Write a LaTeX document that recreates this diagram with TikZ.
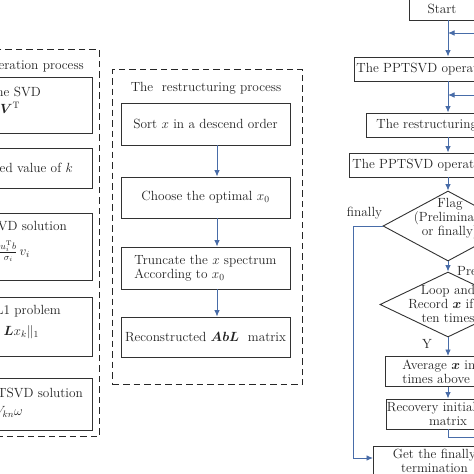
\RequirePackage{fix-cm}
\documentclass[tikz,border=0pt]{standalone}
\usepackage{amsmath,bm}
\usetikzlibrary{arrows.meta,shapes.geometric}
\definecolor{flowblue}{RGB}{72,108,168}
\definecolor{boxgray}{RGB}{50,50,50}
\definecolor{inkc}{RGB}{35,35,35}
\begin{document}
\begin{tikzpicture}[x=1pt,y=-1pt,
  font=\fontsize{13.3}{14}\selectfont, text=inkc,
  box/.style={draw=boxgray, line width=0.9pt, rectangle, inner sep=0pt},
  dbox/.style={draw=black!85, dash pattern=on 6.5pt off 4pt, line width=1.3pt, rectangle, inner sep=0pt},
  dia/.style={draw=boxgray, line width=0.9pt, diamond, inner sep=0pt},
  arr/.style={draw=flowblue, line width=0.95pt, -{Latex[length=6.5pt,width=5.5pt]}},
  ln/.style={draw=flowblue, line width=0.95pt},
  txt/.style={inner sep=0pt, align=center}]
\useasboundingbox (0,0) rectangle (474,474);
\fill[white] (0,0) rectangle (474,474);
\clip (0,0) rectangle (474,474);

% ---------- left panel: iteration process ----------
\node[dbox, anchor=north east, minimum width=250, minimum height=387] (lpanel) at (100,49) {};
\node[txt, anchor=east] (ltitle) at (84,66) {The iteration process};
\node[box, anchor=north east, minimum width=200, minimum height=56] (l1) at (93,77) {};
\node[txt, anchor=east] (l1t) at (41,100) {Perform the SVD\\[3pt]$\bm{A}=\bm{U}\bm{\Sigma}\bm{V}^{\mathrm{T}}$\hspace*{14pt}};
\node[box, anchor=north east, minimum width=200, minimum height=40] (l2) at (93,148) {};
\node[txt, anchor=east] (l2t) at (73,168) {Set the fixed value of $k$};
\node[box, anchor=north east, minimum width=200, minimum height=67] (l3) at (93,213) {};
\node[txt, anchor=east] (l3a) at (67,227) {Compute the TSVD solution};
\node[txt, anchor=east] (l3b) at (30,251) {$x_k=\sum_{i=1}^{k}\frac{u_i^{\mathrm{T}}b}{\sigma_i}\,v_i$};
\node[box, anchor=north east, minimum width=200, minimum height=59] (l4) at (93,297) {};
\node[txt, anchor=east] (l4a) at (61,311) {Solve the L1 problem};
\node[txt, anchor=east] (l4b) at (39,332) {$\min\|\bm{L}V_{kn}\omega+\bm{L}x_k\|_1$};
\node[box, anchor=north east, minimum width=200, minimum height=52] (l5) at (93,378) {};
\node[txt, anchor=east] (l5t) at (83,403) {Compute the PPTSVD solution\\[4pt]$x=x_k-V_{kn}\omega$\hspace*{20pt}};

% ---------- middle panel: restructuring process ----------
\node[dbox, anchor=north west, minimum width=190, minimum height=315] (mpanel) at (112,69) {};
\node[txt] (mtitle) at (206,88) {The\ \ restructuring process};
\node[box, minimum width=169, minimum height=42] (mA) at (205.5,124) {Sort $x$ in a descend order};
\node[box, minimum width=169, minimum height=41] (mB) at (205.5,197.5) {Choose the optimal $x_0$};
\node[box, minimum width=169, minimum height=42, align=left] (mC) at (205.5,268) {Truncate the $x$ spectrum\\According to $x_0$};
\node[box, minimum width=169, minimum height=40] (mD) at (205.5,337) {Reconstructed $\bm{AbL}$\ \ matrix};
\draw[arr] ([xshift=11.5pt]mA.south) -- ([xshift=11.5pt]mB.north);
\draw[arr] ([xshift=11.5pt]mB.south) -- ([xshift=11.5pt]mC.north);
\draw[arr] ([xshift=11.5pt]mC.south) -- ([xshift=11.5pt]mD.north);

% ---------- right panel: flowchart ----------
\coordinate (spine) at (448,0);
\coordinate (fk) at (353,0);
\node[box, minimum width=66, minimum height=22] (st) at (442,9) {Start};
\node[box, anchor=west, minimum height=24, inner xsep=2pt] (p1) at (354,69) {The PPTSVD operation process};
\node[box, anchor=west, minimum height=24, inner xsep=10pt] (p2) at (366,125) {The restructuring process};
\node[box, anchor=west, minimum height=24, inner xsep=3pt] (p3) at (349,165) {The PPTSVD operation process};
\node[dia, minimum width=130, minimum height=70] (d1) at (448,226) {};
\node[txt] (d1t) at (450,219) {Flag\\(Preliminary\\or finally)};
\node[dia, minimum width=136, minimum height=65] (d2) at (448,304.5) {};
\node[txt] (d2t) at (448,304) {Loop and\\Record $\bm{x}$ if $<$\\ten times};
\node[box, anchor=north west, minimum height=30, align=left, inner xsep=17pt] (avg) at (385,356) {Average $\bm{x}$ in ten\\times above};
\node[box, minimum width=124, minimum height=30, align=center] (rec) at (448,414) {Recovery initial $\bm{AbL}$\\matrix};
\node[box, anchor=north west, minimum width=122, minimum height=29, align=center] (fin) at (373,446) {Get the finally\\termination};

\node[inner sep=0pt, anchor=west] (pre) at (457,272) {Preliminary};
\node[inner sep=0pt] (ylab) at (427,344) {Y};
\node[inner sep=0pt] (fl) at (364.5,213) {finally};

\coordinate (fb1) at (480,33);
\coordinate (fb2) at (480,95);
\coordinate (lp) at (480,437);

\draw[arr] (st.south -| spine) -- (p1.north -| spine);
\draw[arr] (fb1) -- (fb1 -| spine);
\draw[arr] (p1.south -| spine) -- (p2.north -| spine);
\draw[arr] (fb2) -- (fb2 -| spine);
\draw[arr] (p2.south -| spine) -- (p3.north -| spine);
\draw[arr] (p3.south -| spine) -- (d1.north);
\draw[arr] (d1.south) -- (d2.north);
\draw[arr] (d2.south) -- (avg.north -| spine);
\draw[arr] (avg.south -| spine) -- (rec.north -| spine);
\draw[ln] (rec.south -| spine) |- (lp);
\draw[arr] (d1.west) -- (d1.west -| fk) |- ([yshift=-12pt]fin.north west);
\end{tikzpicture}
\end{document}
